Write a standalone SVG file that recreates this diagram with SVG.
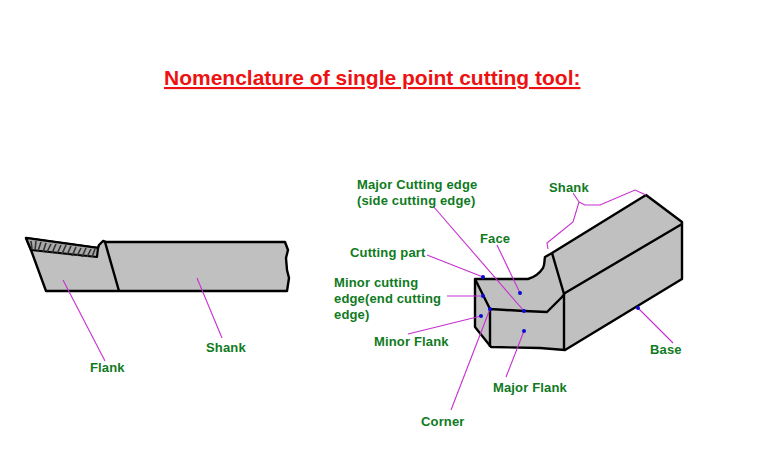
<svg xmlns="http://www.w3.org/2000/svg" width="759" height="461" viewBox="0 0 759 461">
<style>
text{font-family:"Liberation Sans",Arial,sans-serif;font-weight:bold;font-size:13px;letter-spacing:.15px;fill:#0f7a1e}
.title{font-size:21px;letter-spacing:0;fill:#ee1111;text-decoration:underline}
.b{fill:#c0c0c0;stroke:#000;stroke-width:2.4;stroke-linejoin:round}
.l{fill:none;stroke:#000;stroke-width:2.4;stroke-linejoin:round}
.c{fill:none;stroke:#c62fd0;stroke-width:1.1}
.d{fill:#0a0ad2}
</style>
<rect width="759" height="461" fill="#fff"/>
<text class="title" x="164" y="85">Nomenclature of single point cutting tool:</text>
<g id="side-tool">
<path class="b" d="M26 238L98 248L99 245L103 241L106 242L285 242L288 250L286 258L287 270L289 278L287 291L46 291L31 250Z"/>
<path d="M26 238L98 248L97 257L31 250Z" fill="#a8a8a8" stroke="#000" stroke-width="2.2" stroke-linejoin="round"/>
<path d="M31 241L32 249M36 241L35 250M41 242L38 251M46 243L43 252M51 244L47 252M56 244L52 253M61 245L57 254M66 245L62 254M71 246L67 255M76 247L72 256M81 248L77 256M86 248L82 257M91 249L87 257M95 249L92 257" stroke="#333" stroke-width="1.6"/>
<path class="l" d="M105 242L119 291"/>
</g>
<g id="front-tool">
<path class="b" d="M475 279L528 279C538 276 541 271 543 268C545 264 544 262 545 257L552 253L646 195L682 222L682 279L565 350L540 348L491 347L475 327Z"/>
<path class="l" d="M475 279L490 309L490 347M490 309L524 311L547 312L562 297L565 293L682 224M552 253L564 294L564 350"/>
</g>
<g id="connectors">
<path class="c" d="M63 280L105 361"/>
<path class="c" d="M197 278L222 338"/>
<path class="c" d="M433 206L524 311"/>
<path class="c" d="M427 255L483 277"/>
<path class="c" d="M497 245L520 293"/>
<path class="c" d="M447 296L483 296"/>
<path class="c" d="M408 334L481 316"/>
<path class="c" d="M451 410L490 309"/>
<path class="c" d="M506 377L524 331"/>
<path class="c" d="M638 308L673 343"/>
<path class="c" d="M548 249L547 243L573 222L579 202L585 205L600 205L635 190L646 195M573 193L579 202"/>
</g>
<g id="points">
<circle class="d" cx="483" cy="277" r="2"/><circle class="d" cx="520" cy="293" r="2"/><circle class="d" cx="483" cy="296" r="2"/><circle class="d" cx="490" cy="309" r="2"/><circle class="d" cx="524" cy="311" r="2"/><circle class="d" cx="481" cy="316" r="2"/><circle class="d" cx="524" cy="331" r="2"/><circle class="d" cx="638" cy="308" r="2"/>
</g>
<g id="labels">
<text x="357" y="189">Major Cutting edge</text>
<text x="357" y="205">(side cutting edge)</text>
<text x="549" y="192">Shank</text>
<text x="480" y="243">Face</text>
<text x="350" y="257">Cutting part</text>
<text x="334" y="287">Minor cutting</text>
<text x="334" y="303">edge(end cutting</text>
<text x="334" y="319">edge)</text>
<text x="374" y="346">Minor Flank</text>
<text x="493" y="392">Major Flank</text>
<text x="421" y="426">Corner</text>
<text x="650" y="354">Base</text>
<text x="206" y="352">Shank</text>
<text x="90" y="372">Flank</text>
</g>
</svg>
